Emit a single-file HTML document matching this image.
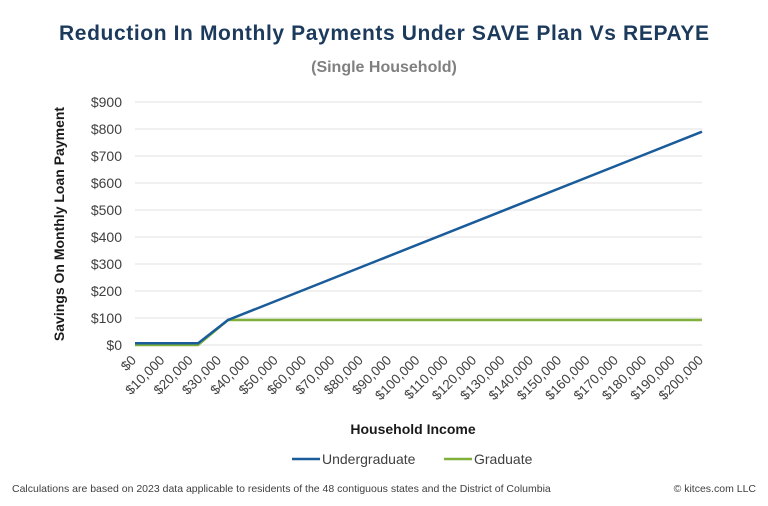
<!DOCTYPE html>
<html><head><meta charset="utf-8"><style>
body{margin:0;background:#fff;width:768px;height:501px;overflow:hidden;font-family:"Liberation Sans",sans-serif;}
</style></head><body>
<svg width="768" height="501" xmlns="http://www.w3.org/2000/svg" font-family="Liberation Sans, sans-serif">
<text x="384" y="40" text-anchor="middle" font-size="21" font-weight="bold" fill="#1b3a5c" textLength="650">Reduction In Monthly Payments Under SAVE Plan Vs REPAYE</text>
<text x="384" y="72" text-anchor="middle" font-size="16" font-weight="bold" fill="#808080">(Single Household)</text>
<g stroke="#e0e0e0" stroke-width="1">
<line x1="135" x2="702" y1="102" y2="102"/><line x1="135" x2="702" y1="129" y2="129"/>
<line x1="135" x2="702" y1="156" y2="156"/><line x1="135" x2="702" y1="183" y2="183"/>
<line x1="135" x2="702" y1="210" y2="210"/><line x1="135" x2="702" y1="237" y2="237"/>
<line x1="135" x2="702" y1="264" y2="264"/><line x1="135" x2="702" y1="291" y2="291"/>
<line x1="135" x2="702" y1="318" y2="318"/><line x1="135" x2="702" y1="345" y2="345"/>
</g>
<g font-size="14" fill="#404040" text-anchor="end">
<text x="122" y="107">$900</text><text x="122" y="134">$800</text><text x="122" y="161">$700</text>
<text x="122" y="188">$600</text><text x="122" y="215">$500</text><text x="122" y="242">$400</text>
<text x="122" y="269">$300</text><text x="122" y="296">$200</text><text x="122" y="323">$100</text>
<text x="122" y="350">$0</text>
</g>
<text transform="translate(64,224) rotate(-90)" text-anchor="middle" font-size="14" font-weight="bold" fill="#1a1a1a">Savings On Monthly Loan Payment</text>
<polyline points="135,345 198,345 228,320 702,320" fill="none" stroke="#7fb03a" stroke-width="2.5"/>
<polyline points="135,343.3 198,343.3 228,320 702,131.7" fill="none" stroke="#1a5b9a" stroke-width="2.5"/>
<g font-size="13.5" fill="#404040" text-anchor="end" id="xt"></g>
<text x="413" y="434" text-anchor="middle" font-size="14" font-weight="bold" fill="#1a1a1a">Household Income</text>
<line x1="292" x2="320" y1="459" y2="459" stroke="#1a5b9a" stroke-width="2.5"/>
<text x="322" y="464" font-size="14" fill="#404040">Undergraduate</text>
<line x1="444" x2="472" y1="459" y2="459" stroke="#7fb03a" stroke-width="2.5"/>
<text x="474" y="464" font-size="14" fill="#404040">Graduate</text>
<text x="12" y="492" font-size="10.5" fill="#404040">Calculations are based on 2023 data applicable to residents of the 48 contiguous states and the District of Columbia</text>
<text x="756" y="492" text-anchor="end" font-size="10.5" fill="#404040">© kitces.com LLC</text>
</svg>
<script>
var g=document.getElementById('xt'),s='';
for(var i=0;i<=20;i++){var x=135+i*28.35,v=i*10000;var l='$'+(v===0?'0':v.toLocaleString('en-US'));
s+='<text transform="translate('+(x+2)+',361) rotate(-45)">'+l+'</text>';}
g.innerHTML=s;
</script>
</body></html>
